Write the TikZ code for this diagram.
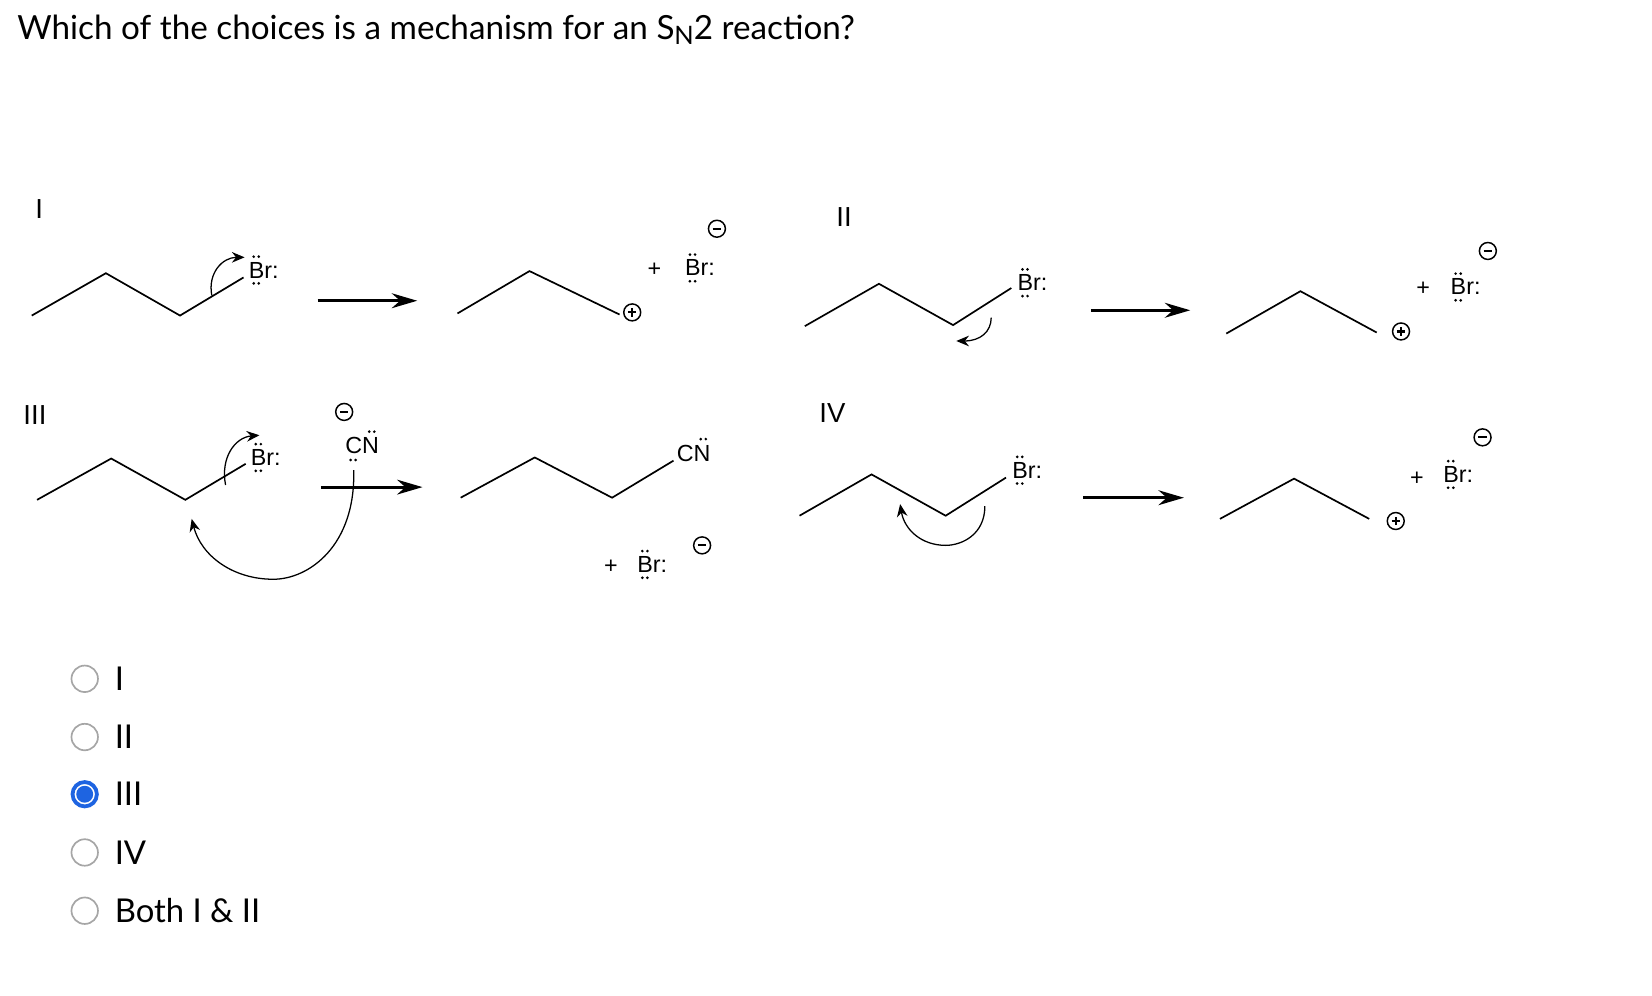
\documentclass[tikz,border=0pt]{standalone}
\usepackage{fontspec}
\setmainfont{Lato}
\newfontfamily\chemfont{Liberation Sans}
\usetikzlibrary{arrows.meta}
\definecolor{radblue}{RGB}{30,100,225}
\tikzset{
 chem/.style={font=\chemfont\fontsize{11}{13}\selectfont, inner sep=0pt},
 bond/.style={line width=0.8pt},
 rxn/.style={line width=1.5pt,-{Stealth[length=12pt,width=7pt]}},
 push/.style={line width=0.6pt,-{Stealth[length=6pt,width=5pt]}},
 chg/.style={circle,draw,line width=0.7pt,minimum size=8pt,inner sep=0pt},
 lbl/.style={font=\chemfont\fontsize{13}{15}\selectfont, inner sep=0pt},
 opt/.style={font=\fontsize{15.5}{19}\selectfont, inner sep=0pt, anchor=west},
 radio/.style={circle,draw=gray!70,line width=0.8pt,minimum size=12.5pt,inner sep=0pt},
}
\newcommand\lp[2]{\fill ([shift={#2}]#1) ++(-1.2pt,0) circle (0.7pt) ++(2.4pt,0) circle (0.7pt);}
\newcommand\BrAt[2]{\node[chem] (#1) at (#2) {Br:}; \coordinate (#1B) at ([xshift=3.7pt]#1.west); \lp{#1B}{(0,6.3pt)} \lp{#1B}{(0,-6.3pt)}}
\newcommand\minusAt[2]{\node[chg] (#1) at (#2) {}; \draw[line width=1pt] ([xshift=-2pt]#1.center)--([xshift=2pt]#1.center);}
\newcommand\plusAt[2]{\node[chg] (#1) at (#2) {}; \draw[line width=1pt] ([xshift=-2pt]#1.center)--([xshift=2pt]#1.center) ([yshift=-2pt]#1.center)--([yshift=2pt]#1.center);}
\begin{document}
\begin{tikzpicture}[x=0.5pt,y=-0.5pt]
\useasboundingbox (0,0) rectangle (1560,940);
\node[font=\fontsize{15.7}{19}\selectfont,inner sep=0pt,anchor=base west] (title) at (16,37) {Which of the choices is a mechanism for an S\raisebox{-0.3ex}{\fontsize{12}{12}\selectfont N}2 reaction?};

% ---------- I ----------
\node[lbl] (lI) at (37,197) {I};
\coordinate (a1) at (30,298); \coordinate (a2) at (100,258); \coordinate (a3) at (170,298); \coordinate (a4) at (230,262);
\draw[bond] (a1)--(a2)--(a3)--(a4);
\BrAt{brI}{249,255}
\draw[push] (200,279) .. controls (196,258) and (210,243) .. (231,243);
\coordinate (r1s) at (300,284); \coordinate (r1e) at (394,284);
\draw[rxn] (r1s)--(r1e);
\coordinate (b1) at (432,296); \coordinate (b2) at (500,256); \coordinate (b3) at (585,297);
\draw[bond] (b1)--(b2)--(b3);
\plusAt{pI}{597,295}
\node[chem] (plI) at (618,255) {+};
\BrAt{brI2}{661,253}
\minusAt{mI}{677,216}

% ---------- II ----------
\node[lbl] (lII) at (797,205) {II};
\coordinate (c1) at (760,308); \coordinate (c2) at (830,268); \coordinate (c3) at (900,307); \coordinate (c4) at (955,272);
\draw[bond] (c1)--(c2)--(c3)--(c4);
\BrAt{brII}{975,267}
\draw[push] (936,300) .. controls (936,313) and (926,322) .. (903,322);
\coordinate (r2s) at (1030,293); \coordinate (r2e) at (1124,293);
\draw[rxn] (r2s)--(r2e);
\coordinate (d1) at (1158,315); \coordinate (d2) at (1228,275); \coordinate (d3) at (1300,314);
\draw[bond] (d1)--(d2)--(d3);
\plusAt{pII}{1323,313}
\node[chem] (plII) at (1344,273) {+};
\BrAt{brII2}{1384,271}
\minusAt{mII}{1405,237}

% ---------- III ----------
\node[lbl] (lIII) at (33,392) {III};
\coordinate (e1) at (35,472); \coordinate (e2) at (105,433); \coordinate (e3) at (175,472); \coordinate (e4) at (232,438);
\draw[bond] (e1)--(e2)--(e3)--(e4);
\BrAt{brIII}{251,432}
\draw[push] (213,458) .. controls (208,432) and (222,413) .. (245,411);
\node[chem] (cn1) at (342,421) {CN};
\lp{cn1.north east}{(-3.6pt,2.6pt)}
\lp{cn1.south west}{(3.9pt,-2.6pt)}
\minusAt{mIII}{325,389}
\coordinate (r3s) at (303,460); \coordinate (r3e) at (399,460);
\draw[rxn] (r3s)--(r3e);
\draw[push] (334,444) .. controls (336,515) and (292,547) .. (258,547) .. controls (220,547) and (190,525) .. (181,490);
\coordinate (f1) at (435,470); \coordinate (f2) at (505,432); \coordinate (f3) at (578,470); \coordinate (f4) at (636,435);
\draw[bond] (f1)--(f2)--(f3)--(f4);
\node[chem] (cn2) at (655,428) {CN};
\lp{cn2.north east}{(-3.6pt,2.6pt)}
\node[chem] (plIII) at (577,535) {+};
\BrAt{brIII2}{616,533}
\minusAt{mIII2}{663,515}

% ---------- IV ----------
\node[lbl] (lIV) at (786,390) {IV};
\coordinate (g1) at (755,487); \coordinate (g2) at (823,448); \coordinate (g3) at (893,487); \coordinate (g4) at (950,451);
\draw[bond] (g1)--(g2)--(g3)--(g4);
\BrAt{brIV}{970,444}
\draw[push] (930,478) .. controls (930,505) and (908,515) .. (893,515) .. controls (870,515) and (854,500) .. (850,476);
\coordinate (r4s) at (1023,470); \coordinate (r4e) at (1118,470);
\draw[rxn] (r4s)--(r4e);
\coordinate (h1) at (1152,490); \coordinate (h2) at (1222,452); \coordinate (h3) at (1293,490);
\draw[bond] (h1)--(h2)--(h3);
\plusAt{pIV}{1318,492}
\node[chem] (plIV) at (1338,452) {+};
\BrAt{brIV2}{1377,448}
\minusAt{mIV}{1400,413}

% ---------- options ----------
\node[radio] (o1) at (80,641) {}; \node[opt] (t1) at (108,641) {I};
\node[radio] (o2) at (80,696) {}; \node[opt] (t2) at (108,696) {II};
\node[circle,draw=radblue,line width=1.8pt,minimum size=11.5pt,inner sep=0pt,fill=white] (o3) at (80,750) {};
\fill[radblue] (o3.center) circle (4pt);
\node[opt] (t3) at (108,750) {III};
\node[radio] (o4) at (80,805) {}; \node[opt] (t4) at (108,805) {IV};
\node[radio] (o5) at (80,860) {}; \node[opt] (t5) at (108,860) {Both I \& II};
\end{tikzpicture}
\end{document}
